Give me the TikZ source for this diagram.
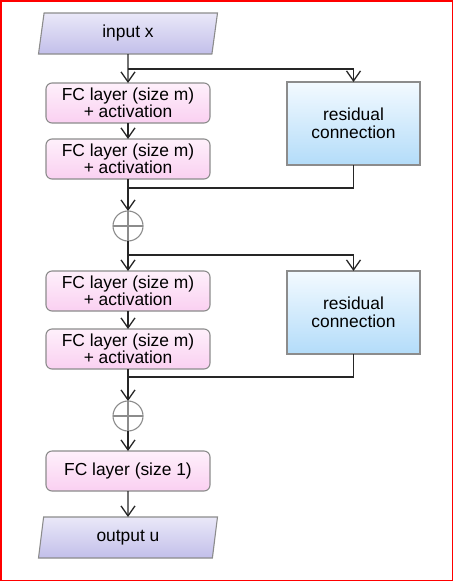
\documentclass[tikz,border=0pt]{standalone}
\usepackage{fontspec}
\setmainfont{Liberation Sans}
\usepackage{tikz}
\usetikzlibrary{positioning,shapes.geometric,arrows.meta}

\definecolor{fctop}{HTML}{FEF0FB}
\definecolor{fcbot}{HTML}{FAD0F1}
\definecolor{restop}{HTML}{F3FAFF}
\definecolor{resbot}{HTML}{B3DCF9}
\definecolor{iotop}{HTML}{EAE8F8}
\definecolor{iobot}{HTML}{C2BFEA}

\tikzset{
	txt/.style={font=\fontsize{17.4}{17.5}\selectfont, align=center, inner sep=0pt, outer sep=0pt},
	fcbox/.style={txt, rectangle, rounded corners=6pt, draw=black!45, line width=1.1pt,
		top color=fctop, bottom color=fcbot, minimum width=164pt, minimum height=40pt},
	resbox/.style={txt, rectangle, draw=black!45, line width=1.1pt,
		top color=restop, bottom color=resbot, minimum width=133pt, minimum height=83pt},
	iobox/.style={txt, trapezium, trapezium left angle=71, trapezium right angle=109,
		trapezium stretches body, draw=black!45, line width=1.1pt,
		top color=iotop, bottom color=iobot, minimum width=179pt, minimum height=41pt},
	sumnode/.style={circle, draw=black!45, line width=1.1pt, fill=white, minimum size=30pt,
		inner sep=0pt, outer sep=0pt,
		path picture={\draw[black!45, line width=1.1pt]
			(path picture bounding box.north) -- (path picture bounding box.south)
			(path picture bounding box.west) -- (path picture bounding box.east);}},
	link/.style={draw=black!85, line width=1.3pt},
	flow/.style={link, -{Straight Barb[length=10pt,width=14pt]}},
}

\begin{document}
\begin{tikzpicture}
	\useasboundingbox (0,0) rectangle (453pt,-581pt);
	%% input and first block
	\node[iobox] (input) at (128pt,-33.5pt) {input x};
	\coordinate[below =15pt of input.south] (b1);
	\node[fcbox, below =29pt of input] (fc1) {FC layer (size m)\\+ activation};
	\node[fcbox, below =16pt of fc1] (fc2) {FC layer (size m)\\+ activation};
	\node[resbox, below right =-1pt and 77pt of fc1.north east] (res1) {residual\\connection};
	\coordinate[below =9pt of fc2.south] (j1);
	\node[sumnode, below =32pt of fc2] (sum1) {};
	%% second block
	\coordinate[below =14pt of sum1.south] (b2);
	\node[fcbox, below =30pt of sum1] (fc3) {FC layer (size m)\\+ activation};
	\node[fcbox, below =18pt of fc3] (fc4) {FC layer (size m)\\+ activation};
	\node[resbox, below right =0pt and 77pt of fc3.north east] (res2) {residual\\connection};
	\coordinate[below =8pt of fc4.south] (j2);
	\node[sumnode, below =32pt of fc4] (sum2) {};
	%% output
	\node[fcbox, below =20pt of sum2] (fc5) {FC layer (size 1)};
	\node[iobox, below =26pt of fc5] (output) {output u};
	% main line
	\draw[flow] (input) -- (fc1);
	\draw[flow] (fc1) -- (fc2);
	\draw[flow] (fc2) -- (sum1);
	\draw[flow] (sum1) -- (fc3);
	\draw[flow] (fc3) -- (fc4);
	\draw[flow] (fc4) -- (sum2);
	\draw[flow] (sum2) -- (fc5);
	\draw[flow] (fc5) -- (output);
	% residual branches
	\draw[flow] (b1) -| (res1);
	\draw[link] (res1) |- (j1);
	\draw[flow] (b2) -| (res2);
	\draw[link] (res2) |- (j2);
	% frame
	\draw[red, line width=1.5pt] (0.75pt,-0.75pt) rectangle (452.25pt,-580.25pt);
\end{tikzpicture}
\end{document}
